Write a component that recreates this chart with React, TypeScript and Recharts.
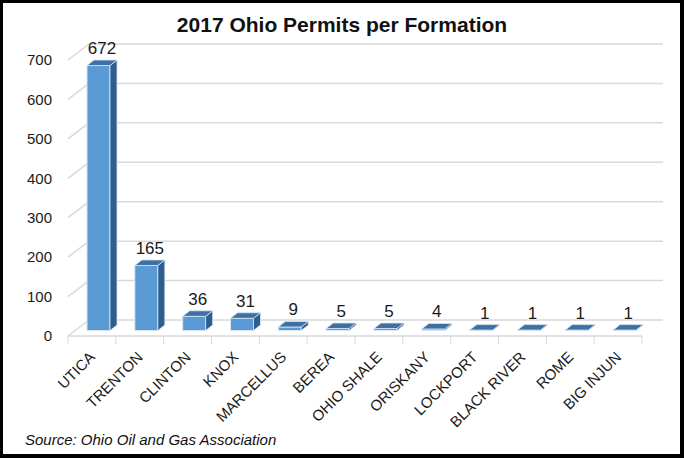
import { BarChart, Bar, XAxis, YAxis, CartesianGrid, LabelList } from "recharts";

const formations = [
  "UTICA",
  "TRENTON",
  "CLINTON",
  "KNOX",
  "MARCELLUS",
  "BEREA",
  "OHIO SHALE",
  "ORISKANY",
  "LOCKPORT",
  "BLACK RIVER",
  "ROME",
  "BIG INJUN",
];
const permits = [672, 165, 36, 31, 9, 5, 5, 4, 1, 1, 1, 1];
const yTicks = [0, 100, 200, 300, 400, 500, 600, 700];

const data = formations.map((name, i) => ({ name, permits: permits[i] }));

const W = 684;
const H = 458;
const PLOT_LEFT = 68;
const PLOT_RIGHT = 42;
const PLOT_W = W - PLOT_LEFT - PLOT_RIGHT;
const BAND = PLOT_W / formations.length;

// 3D offsets: wall depth and bar depth
const WALL_DX = 21;
const WALL_DY = 16;
const BAR_DX = 7;
const BAR_DY = 5.5;

const FONT = "'Liberation Sans', Arial, sans-serif";

const C = {
  front: "#5B9BD5",
  side: "#2F5E8E",
  top: "#3E70A3",
  edge: "#D6E6F5",
  grid: "#D9D9D9",
  text: "#1A1A1A",
};

function Box3D(props: any) {
  const { x, y, width, height } = props;
  const fx = x + BAR_DX;
  const fy = y - BAR_DY;
  const h = Math.max(height, 0.5);
  const top = `${fx},${fy} ${fx + BAR_DX},${fy - BAR_DY} ${fx + width + BAR_DX},${fy - BAR_DY} ${fx + width},${fy}`;
  const side = `${fx + width},${fy} ${fx + width + BAR_DX},${fy - BAR_DY} ${fx + width + BAR_DX},${fy + h - BAR_DY} ${fx + width},${fy + h}`;
  return (
    <g>
      <rect x={fx} y={fy} width={width} height={h} fill={C.front} stroke={C.edge} strokeWidth={1} />
      <polygon points={side} fill={C.side} stroke={C.edge} strokeWidth={0.8} />
      <polygon points={top} fill={C.top} stroke={C.edge} strokeWidth={0.8} />
    </g>
  );
}

function ValueLabel(props: any) {
  const { x, y, width, value } = props;
  const cx = x + BAR_DX + width / 2 + BAR_DX / 2;
  return (
    <text x={cx} y={y - 17} textAnchor="middle" fontSize={17} fontFamily={FONT} fill={C.text}>
      {value}
    </text>
  );
}

function GridLine(props: any) {
  const { x1, y1, x2 } = props;
  return (
    <g key={props.key}>
      <line x1={x1} y1={y1} x2={x1 + WALL_DX} y2={y1 - WALL_DY} stroke={C.grid} strokeWidth={1.5} />
      <line x1={x1 + WALL_DX} y1={y1 - WALL_DY} x2={x2 + WALL_DX} y2={y1 - WALL_DY} stroke={C.grid} strokeWidth={1.5} />
    </g>
  );
}

function CategoryTick(props: any) {
  const { x, y, payload, index } = props;
  const left = x - BAND / 2;
  const ax = x + 4;
  const ay = y + 14;
  return (
    <g>
      <line x1={left} y1={y - 8} x2={left} y2={y} stroke={C.grid} strokeWidth={1} />
      {index === formations.length - 1 ? (
        <line x1={x + BAND / 2} y1={y - 8} x2={x + BAND / 2} y2={y} stroke={C.grid} strokeWidth={1} />
      ) : null}
      <text
        x={ax}
        y={ay}
        textAnchor="end"
        fontSize={15}
        fontFamily={FONT}
        fill={C.text}
        transform={`rotate(-45 ${ax} ${ay})`}
      >
        {payload.value}
      </text>
    </g>
  );
}

export default function App() {
  return (
    <div style={{ position: "absolute", left: 0, top: 0, width: W, height: H, background: "#fff" }}>
      <div
        style={{
          position: "absolute",
          left: 0,
          right: 0,
          top: 14,
          textAlign: "center",
          fontFamily: FONT,
          fontWeight: 700,
          fontSize: 21,
          lineHeight: "21px",
          color: "#111",
        }}
      >
        2017 Ohio Permits per Formation
      </div>
      <BarChart
        width={W}
        height={H}
        data={data}
        margin={{ top: 60, right: PLOT_RIGHT, bottom: 22, left: 8 }}
        barSize={23}
      >
        <CartesianGrid vertical={false} horizontal={(p: any) => <GridLine {...p} />} />
        <YAxis
          domain={[0, 700]}
          ticks={yTicks}
          width={60}
          axisLine={false}
          tickLine={false}
          tickMargin={10}
          tick={{ fontSize: 15, fill: C.text, fontFamily: FONT }}
        />
        <XAxis
          dataKey="name"
          height={100}
          interval={0}
          axisLine={{ stroke: C.grid, strokeWidth: 1.5 }}
          tickLine={false}
          tick={(p: any) => <CategoryTick {...p} />}
        />
        <Bar dataKey="permits" shape={(p: any) => <Box3D {...p} />} isAnimationActive={false}>
          <LabelList dataKey="permits" content={(p: any) => <ValueLabel {...p} />} />
        </Bar>
      </BarChart>
      <div
        style={{
          position: "absolute",
          left: 25,
          top: 432,
          fontFamily: FONT,
          fontStyle: "italic",
          fontSize: 15,
          lineHeight: "15px",
          color: "#111",
        }}
      >
        Source: Ohio Oil and Gas Association
      </div>
      <div
        style={{
          position: "absolute",
          inset: 0,
          boxSizing: "border-box",
          borderStyle: "solid",
          borderColor: "#000",
          borderWidth: "3px 4px 4px 3px",
          pointerEvents: "none",
        }}
      />
    </div>
  );
}
